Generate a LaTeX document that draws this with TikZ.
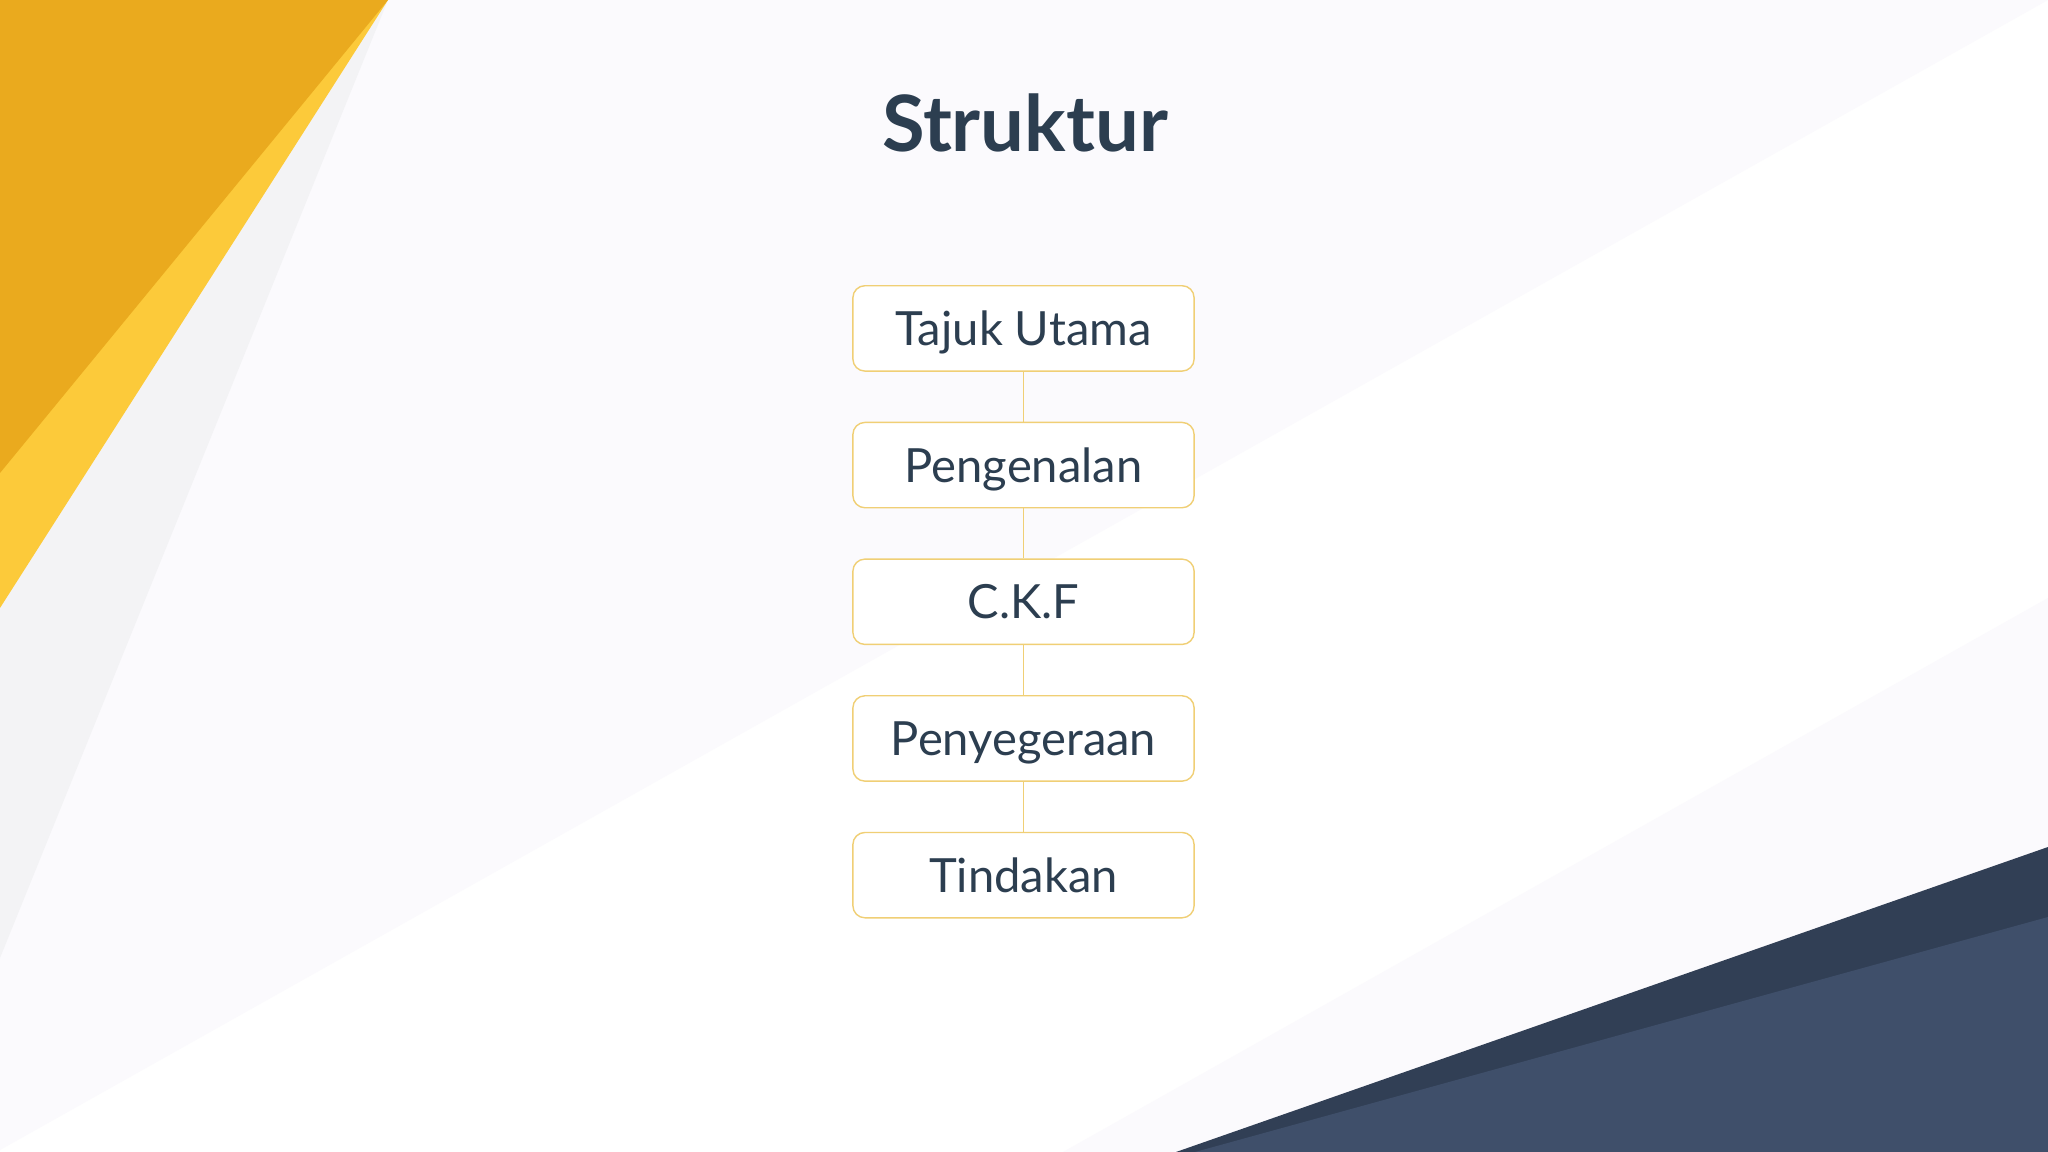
\documentclass[tikz,border=0pt]{standalone}
\usepackage{fontspec}
\setmainfont{Lato}
\usetikzlibrary{positioning}

\definecolor{gold}{HTML}{EAAA1E}
\definecolor{sun}{HTML}{FCCA3A}
\definecolor{mist}{HTML}{F3F3F5}
\definecolor{lilac}{HTML}{FBFAFD}
\definecolor{navy}{HTML}{313F55}
\definecolor{slate}{HTML}{3F4F6A}
\definecolor{ink}{HTML}{2C3E50}
\definecolor{rim}{HTML}{F0CF75}

\tikzset{
  stage/.style={draw=rim, line width=0.4pt, rounded corners=0.12cm, fill=white,
    minimum width=3.41cm, minimum height=0.853cm, inner sep=0pt,
    text height=0.34cm, text depth=0pt, text=ink,
    font=\fontsize{13.4}{16}\selectfont},
  link/.style={draw=rim, line width=0.4pt}
}

\begin{document}
\begin{tikzpicture}
        [x=0.01cm,y=-0.01cm]
        \useasboundingbox (0,0) rectangle (2048,1152);

        \fill[white] (0,0) rectangle (2048,1152);
        \fill[lilac] (0,0) -- (2048,0) -- (0,1150) -- cycle;
        \fill[lilac] (2048,598) -- (1063,1152) -- (2048,1152) -- cycle;

        \fill[mist] (0,0) -- (388,0) -- (0,958) -- cycle;
        \fill[sun] (0,0) -- (388,0) -- (0,608) -- cycle;
        \fill[gold] (0,0) -- (388,0) -- (0,473) -- cycle;

        \fill[navy] (1176,1152) -- (2048,847) -- (2048,1152) -- cycle;
        \fill[slate] (1195,1152) -- (2048,917) -- (2048,1152) -- cycle;

        \node[text=ink, inner sep=0pt, text height=0.56cm, text depth=0pt,
          font=\fontsize{22.1}{26}\selectfont\bfseries] (judul) at (1025,123) {Struktur};

        \node[stage] (tajuk) at (1023.5,328.4) {Tajuk Utama};
        \node[stage, below=0.499cm of tajuk] (kenal) {Pengenalan};
        \node[stage, below=0.499cm of kenal] (ckf) {C.K.F};
        \node[stage, below=0.499cm of ckf] (segera) {Penyegeraan};
        \node[stage, below=0.499cm of segera] (tindak) {Tindakan};

        \draw[link] (tajuk) -- (kenal);
        \draw[link] (kenal) -- (ckf);
        \draw[link] (ckf) -- (segera);
        \draw[link] (segera) -- (tindak);
      \end{tikzpicture}
\end{document}
